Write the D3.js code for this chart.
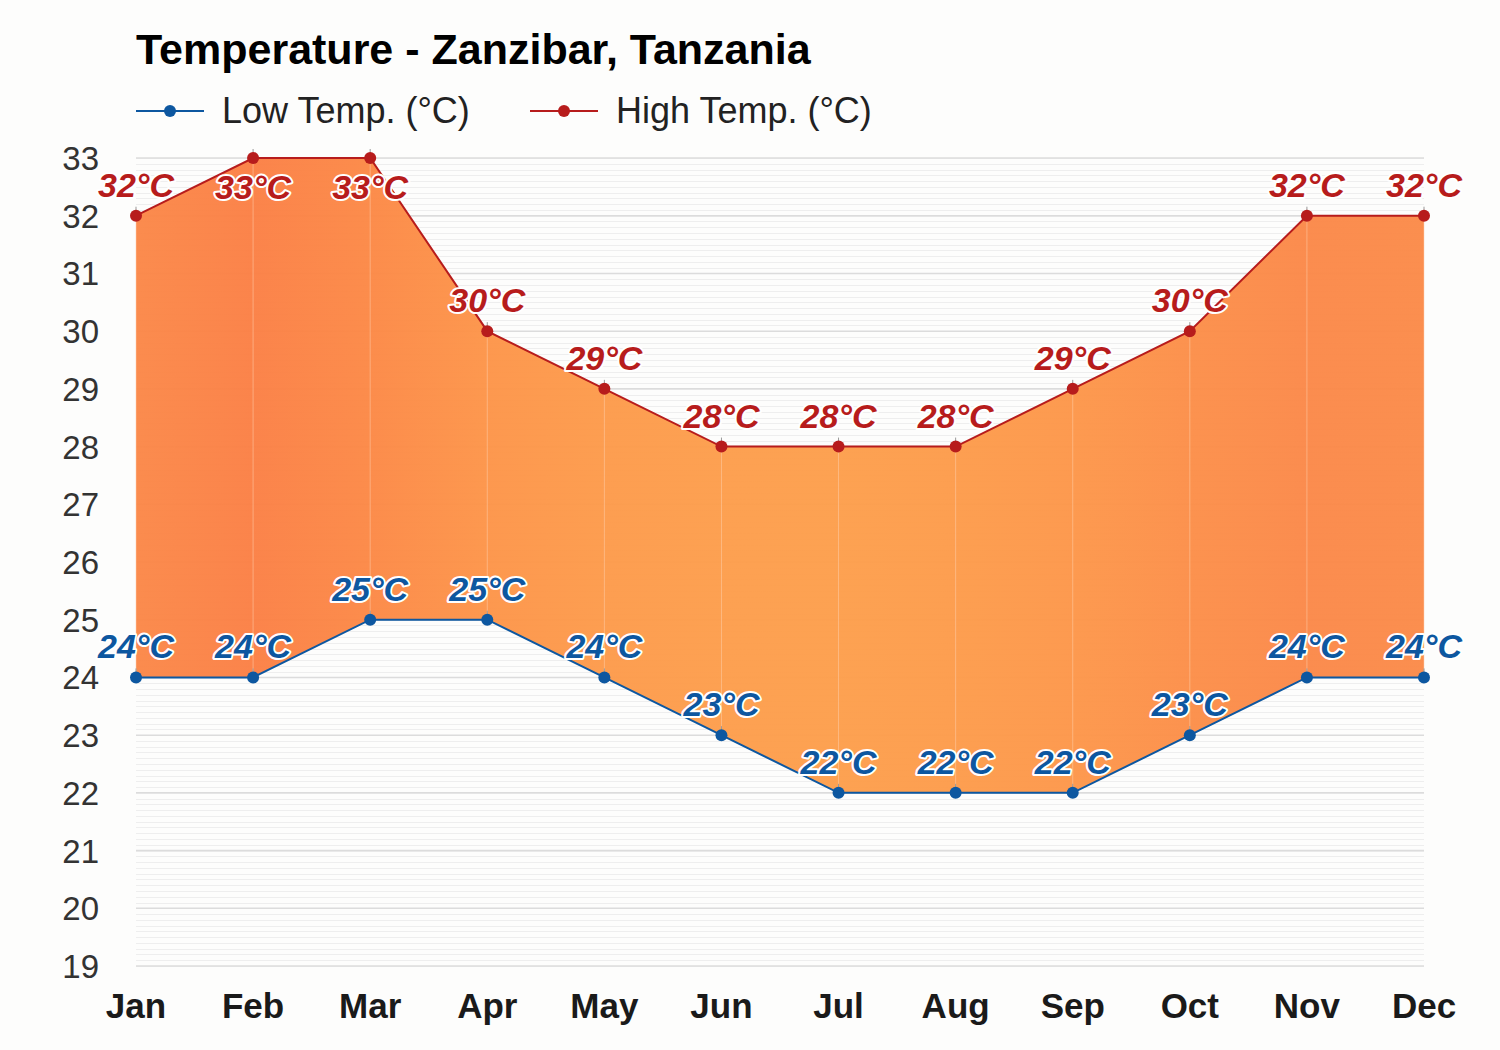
<!DOCTYPE html>
<html>
<head>
<meta charset="utf-8">
<script src="https://cdn.jsdelivr.net/npm/d3@7"></script>
<style>
  body { margin: 0; background: #fdfdfc; }
  svg { display: block; font-family: "Liberation Sans", Arial, sans-serif; }
</style>
</head>
<body>
<svg id="chart" width="1500" height="1050"></svg>
<script>
var months = ['Jan', 'Feb', 'Mar', 'Apr', 'May', 'Jun', 'Jul', 'Aug', 'Sep', 'Oct', 'Nov', 'Dec'];
var lowTemps = [24, 24, 25, 25, 24, 23, 22, 22, 22, 23, 24, 24];
var highTemps = [32, 33, 33, 30, 29, 28, 28, 28, 29, 30, 32, 32];
var yTicks = [19, 20, 21, 22, 23, 24, 25, 26, 27, 28, 29, 30, 31, 32, 33];
// fill tint per month, redder where it's hot
var fillTints = ['#fb8747', '#fb7f44', '#fc8845', '#fd9448', '#fd9a4a', '#fd9d4b', '#fd9e4b', '#fd9b4a', '#fd9649', '#fc8e48', '#fb8848', '#fb8a48'];

var lowColor = '#0d57a0';
var highColor = '#b71c1c';

var svg = d3.select('#chart');

var x = d3.scalePoint().domain(months).range([136, 1424]);
var y = d3.scaleLinear().domain([19, 33]).range([966, 158]);

// title
svg.append('text')
  .attr('x', 136).attr('y', 64)
  .attr('font-size', 43).attr('font-weight', 'bold')
  .attr('fill', '#000')
  .text('Temperature - Zanzibar, Tanzania');

// legend
var legend = [
  { label: 'Low Temp. (°C)', color: lowColor, x: 136 },
  { label: 'High Temp. (°C)', color: highColor, x: 530 }
];
legend.forEach(function (l) {
  var g = svg.append('g').attr('transform', 'translate(' + l.x + ',111)');
  g.append('line').attr('x1', 0).attr('x2', 68).attr('stroke', l.color).attr('stroke-width', 2);
  g.append('circle').attr('cx', 34).attr('r', 6).attr('fill', l.color);
  g.append('text').attr('x', 86).attr('y', 12)
    .attr('font-size', 36).attr('fill', '#222')
    .text(l.label);
});

// grid, minor then major
var minor = d3.range(190, 331).map(function (v) { return v / 10; });
svg.append('g').selectAll('line').data(minor).join('line')
  .attr('x1', 136).attr('x2', 1424)
  .attr('y1', function (d) { return Math.round(y(d)) + 0.5; })
  .attr('y2', function (d) { return Math.round(y(d)) + 0.5; })
  .attr('stroke', '#eeeeee').attr('stroke-width', 1);

svg.append('g').selectAll('line').data(yTicks).join('line')
  .attr('x1', 136).attr('x2', 1424)
  .attr('y1', function (d) { return y(d); })
  .attr('y2', function (d) { return y(d); })
  .attr('stroke', '#dcdcdc').attr('stroke-width', 1.5);

// y tick labels
svg.append('g').selectAll('text').data(yTicks).join('text')
  .attr('x', 99).attr('y', function (d) { return y(d) + 12; })
  .attr('text-anchor', 'end')
  .attr('font-size', 33).attr('fill', '#333')
  .text(function (d) { return d; });

// x labels
svg.append('g').selectAll('text').data(months).join('text')
  .attr('x', function (d) { return x(d); }).attr('y', 1018)
  .attr('text-anchor', 'middle')
  .attr('font-size', 35).attr('font-weight', 'bold').attr('fill', '#1a1a1a')
  .text(function (d) { return d; });

// gradient for the band
var grad = svg.append('defs').append('linearGradient')
  .attr('id', 'bandFill')
  .attr('gradientUnits', 'userSpaceOnUse')
  .attr('x1', x(months[0])).attr('x2', x(months[11]))
  .attr('y1', 0).attr('y2', 0);
grad.selectAll('stop').data(fillTints).join('stop')
  .attr('offset', function (d, i) { return i / (fillTints.length - 1); })
  .attr('stop-color', function (d) { return d; });

var rows = months.map(function (m, i) { return { m: m, lo: lowTemps[i], hi: highTemps[i] }; });

var area = d3.area()
  .x(function (d) { return x(d.m); })
  .y0(function (d) { return y(d.lo); })
  .y1(function (d) { return y(d.hi); });

svg.append('path').datum(rows)
  .attr('d', area)
  .attr('fill', 'url(#bandFill)')
  .attr('fill-opacity', 0.96);

// faint month lines through the band
svg.append('g').selectAll('line').data(rows).join('line')
  .attr('x1', function (d) { return x(d.m); })
  .attr('x2', function (d) { return x(d.m); })
  .attr('y1', function (d) { return y(d.hi); })
  .attr('y2', function (d) { return y(d.lo); })
  .attr('stroke', '#ffd2b0').attr('stroke-opacity', 0.5).attr('stroke-width', 1);

// small grey ticks above each point
[lowTemps, highTemps].forEach(function (vals) {
  svg.append('g').selectAll('line').data(vals).join('line')
    .attr('x1', function (d, i) { return x(months[i]); })
    .attr('x2', function (d, i) { return x(months[i]); })
    .attr('y1', function (d) { return y(d) - 9; })
    .attr('y2', function (d) { return y(d); })
    .attr('stroke', '#999').attr('stroke-width', 1);
});

var series = [
  { vals: lowTemps, color: lowColor },
  { vals: highTemps, color: highColor }
];

series.forEach(function (s) {
  var line = d3.line()
    .x(function (d, i) { return x(months[i]); })
    .y(function (d) { return y(d); });

  svg.append('path').datum(s.vals)
    .attr('d', line)
    .attr('fill', 'none')
    .attr('stroke', s.color)
    .attr('stroke-width', 2);

  svg.append('g').selectAll('circle').data(s.vals).join('circle')
    .attr('cx', function (d, i) { return x(months[i]); })
    .attr('cy', function (d) { return y(d); })
    .attr('r', 6)
    .attr('fill', s.color);
});

// value labels, drawn last so they sit on top; at the top of the axis they flip below the point
var yMax = y.domain()[1];
series.forEach(function (s) {
  svg.append('g').selectAll('text').data(s.vals).join('text')
    .attr('x', function (d, i) { return x(months[i]); })
    .attr('y', function (d) { return d >= yMax ? y(d) + 41 : y(d) - 19; })
    .attr('text-anchor', 'middle')
    .attr('font-size', 34).attr('font-weight', 'bold').attr('font-style', 'italic')
    .attr('fill', s.color)
    .attr('stroke', '#fff').attr('stroke-width', 4).attr('stroke-linejoin', 'round')
    .attr('paint-order', 'stroke')
    .text(function (d) { return d + '°C'; });
});
</script>
</body>
</html>
